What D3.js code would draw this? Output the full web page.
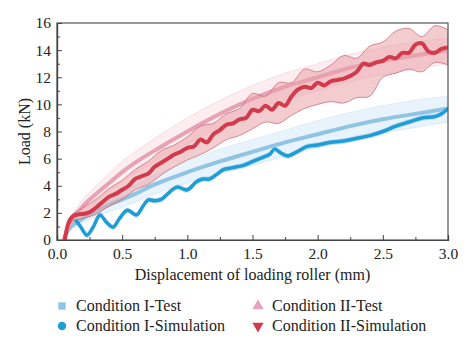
<!DOCTYPE html>
<html>
<head>
<meta charset="utf-8">
<script src="https://cdn.jsdelivr.net/npm/d3@7/dist/d3.min.js"></script>
<style>
  body { margin: 0; background: #fff; }
  svg { font-family: "Liberation Serif", "DejaVu Serif", serif; }
</style>
</head>
<body>
<div id="chart"></div>
<script>
// data (displacement mm, load kN)
const xTicks = [0, 0.5, 1.0, 1.5, 2.0, 2.5, 3.0];
const yTicks = [0, 2, 4, 6, 8, 10, 12, 14, 16];

const testD = [0.05, 0.1, 0.2, 0.3, 0.4, 0.5, 0.6, 0.75, 1.0, 1.25, 1.5, 1.75, 2.0, 2.25, 2.5, 2.75, 3.0];
const test1 = [0, 0.9, 1.6, 2.1, 2.6, 3.0, 3.4, 4.1, 5.0, 5.8, 6.5, 7.2, 7.8, 8.4, 8.9, 9.3, 9.7];
const test1Hi = [0, 1.1, 1.9, 2.5, 3.1, 3.6, 4.0, 4.8, 5.8, 6.7, 7.4, 8.1, 8.8, 9.4, 9.9, 10.3, 10.6];
const test1Lo = [0, 0.7, 1.3, 1.7, 2.1, 2.4, 2.8, 3.4, 4.2, 4.9, 5.5, 6.2, 6.8, 7.4, 7.9, 8.3, 8.7];
const test2 = [0, 1.2, 2.5, 3.4, 4.2, 5.0, 5.7, 6.6, 8.0, 9.3, 10.4, 11.3, 12.0, 12.7, 13.2, 13.6, 14.0];
const test2Hi = [0, 1.5, 3.0, 4.0, 4.9, 5.8, 6.5, 7.5, 9.0, 10.3, 11.4, 12.3, 13.0, 13.7, 14.2, 14.6, 14.9];
const test2Lo = [0, 0.9, 2.0, 2.8, 3.6, 4.3, 4.9, 5.8, 7.1, 8.3, 9.4, 10.3, 11.0, 11.7, 12.2, 12.6, 13.0];

const sim1D = [0.14, 0.18, 0.23, 0.28, 0.33, 0.38, 0.43, 0.48, 0.54, 0.61, 0.66, 0.7, 0.75, 0.8, 0.86, 0.92, 1.0, 1.07, 1.12, 1.17, 1.22, 1.28, 1.33, 1.38, 1.43, 1.48, 1.53, 1.58, 1.63, 1.67, 1.72, 1.77, 1.84, 1.92, 2.0, 2.1, 2.2, 2.3, 2.4, 2.5, 2.6, 2.7, 2.8, 2.9, 2.95, 3.0];
const sim1 = [1.5, 1.0, 0.35, 1.0, 1.85, 1.3, 0.95, 1.6, 2.2, 1.85, 2.5, 2.95, 2.9, 3.0, 3.5, 3.9, 3.7, 4.3, 4.5, 4.5, 4.8, 5.2, 5.3, 5.4, 5.5, 5.7, 5.9, 6.1, 6.3, 6.7, 6.4, 6.2, 6.5, 6.9, 7.0, 7.2, 7.3, 7.5, 7.7, 8.0, 8.4, 8.7, 9.0, 9.1, 9.3, 9.7];

const sim2D = [0.06, 0.08, 0.1, 0.13, 0.17, 0.22, 0.26, 0.3, 0.35, 0.4, 0.45, 0.5, 0.55, 0.6, 0.65, 0.7, 0.75, 0.8, 0.85, 0.9, 0.95, 1.0, 1.05, 1.1, 1.15, 1.2, 1.25, 1.3, 1.35, 1.4, 1.45, 1.5, 1.55, 1.6, 1.65, 1.7, 1.75, 1.8, 1.85, 1.9, 1.95, 2.0, 2.05, 2.1, 2.15, 2.2, 2.25, 2.3, 2.35, 2.4, 2.45, 2.5, 2.55, 2.6, 2.65, 2.7, 2.75, 2.8, 2.85, 2.9, 2.95, 3.0];
const sim2 = [0, 1.0, 1.5, 1.8, 1.9, 1.95, 2.1, 2.4, 2.8, 3.2, 3.4, 3.7, 4.0, 4.5, 4.7, 4.9, 5.4, 5.7, 6.0, 6.3, 6.5, 6.8, 6.9, 7.4, 7.2, 7.8, 8.1, 8.5, 8.6, 8.9, 9.0, 9.6, 9.5, 9.9, 9.6, 10.1, 9.9, 10.6, 11.1, 11.3, 11.2, 11.6, 11.4, 11.7, 11.8, 11.9, 12.1, 12.4, 13.0, 12.9, 13.1, 13.2, 13.5, 13.4, 13.8, 13.8, 14.4, 14.5, 13.9, 13.8, 14.1, 14.2];

const bandD = [0.06, 0.1, 0.2, 0.3, 0.4, 0.5, 0.6, 0.7, 0.8, 0.9, 1.0, 1.1, 1.2, 1.3, 1.4, 1.5, 1.6, 1.7, 1.8, 1.9, 2.0, 2.1, 2.2, 2.3, 2.4, 2.5, 2.6, 2.7, 2.8, 2.9, 3.0];
const sim2Hi = [0, 1.7, 2.4, 3.0, 3.8, 4.4, 5.2, 5.8, 6.6, 7.0, 7.6, 8.4, 8.6, 9.3, 9.7, 10.8, 10.6, 11.6, 11.6, 12.6, 12.4, 12.9, 13.6, 13.4, 14.3, 14.6, 15.4, 15.6, 15.0, 15.8, 15.5];
const sim2Lo = [0, 1.3, 1.6, 1.9, 2.5, 3.0, 3.7, 4.1, 4.8, 5.4, 5.9, 6.3, 6.8, 7.4, 7.7, 8.2, 8.7, 8.6, 9.2, 9.7, 10.0, 10.2, 10.1, 10.5, 10.6, 12.0, 12.3, 12.6, 12.4, 13.1, 12.9];

const seriesNames = ['Condition I-Test', 'Condition I-Simulation', 'Condition II-Test', 'Condition II-Simulation'];

const width = 474, height = 348;
const margin = { top: 23, right: 26, bottom: 108, left: 57 };

const svg = d3.select('#chart').append('svg')
  .attr('width', width)
  .attr('height', height);

const x = d3.scaleLinear().domain([0, 3]).range([margin.left, width - margin.right]);
const y = d3.scaleLinear().domain([0, 16]).range([height - margin.bottom, margin.top]);

svg.append('defs').append('clipPath').attr('id', 'clip')
  .append('rect')
  .attr('x', margin.left).attr('y', margin.top)
  .attr('width', x(3) - x(0)).attr('height', y(0) - y(16));

const plot = svg.append('g').attr('clip-path', 'url(#clip)');

const line = d3.line().x(d => x(d[0])).y(d => y(d[1])).curve(d3.curveCatmullRom);
const area = d3.area().x(d => x(d[0])).y0(d => y(d[1])).y1(d => y(d[2])).curve(d3.curveCatmullRom);

const zip = (xs, ys) => xs.map((v, i) => [v, ys[i]]);
const zip3 = (xs, a, b) => xs.map((v, i) => [v, a[i], b[i]]);

// condition I test band
plot.append('path')
  .attr('d', area(zip3(testD, test1Lo, test1Hi)))
  .attr('fill', '#e9f3fb')
  .attr('stroke', '#d3e6f4')
  .attr('stroke-width', 0.7);

// condition II test band
plot.append('path')
  .attr('d', area(zip3(testD, test2Lo, test2Hi)))
  .attr('fill', '#fcedf1')
  .attr('stroke', '#f3d3dc')
  .attr('stroke-width', 0.7);

plot.append('path')
  .attr('d', line(zip(testD, test1)))
  .attr('fill', 'none')
  .attr('stroke', '#8fc5e3')
  .attr('stroke-width', 4);

plot.append('path')
  .attr('d', line(zip(testD, test2)))
  .attr('fill', 'none')
  .attr('stroke', '#e7a2b6')
  .attr('stroke-width', 4);

// condition I simulation
plot.append('path')
  .attr('d', area(sim1D.map((d, i) => [d, sim1[i] - 0.2, sim1[i] + 0.2])))
  .attr('fill', '#9fd0ec')
  .attr('opacity', 0.7);

plot.append('path')
  .attr('d', line(zip(sim1D, sim1)))
  .attr('fill', 'none')
  .attr('stroke', '#1e9dd6')
  .attr('stroke-width', 3.5);

// condition II simulation
plot.append('path')
  .attr('d', area(zip3(bandD, sim2Lo, sim2Hi)))
  .attr('fill', '#e9a3a7')
  .attr('fill-opacity', 0.55)
  .attr('stroke', '#c9707a')
  .attr('stroke-width', 0.8);

plot.append('path')
  .attr('d', line(zip(sim2D, sim2)))
  .attr('fill', 'none')
  .attr('stroke', '#d23b4c')
  .attr('stroke-width', 4);

// frame
svg.append('rect')
  .attr('x', x(0)).attr('y', y(16))
  .attr('width', x(3) - x(0)).attr('height', y(0) - y(16))
  .attr('fill', 'none')
  .attr('stroke', '#555')
  .attr('stroke-width', 1.2);

// axes with inner ticks
svg.append('g')
  .attr('transform', `translate(0,${y(0)})`)
  .call(d3.axisBottom(x).tickValues(xTicks).tickSize(-5).tickPadding(8).tickFormat(d3.format('.1f')));

svg.append('g')
  .attr('transform', `translate(0,${y(0)})`)
  .call(d3.axisBottom(x).tickValues(d3.range(0.25, 3, 0.5)).tickSize(-3).tickFormat(''));

svg.append('g')
  .attr('transform', `translate(${x(0)},0)`)
  .call(d3.axisLeft(y).tickValues(yTicks).tickSize(-5).tickPadding(6));

svg.append('g')
  .attr('transform', `translate(${x(0)},0)`)
  .call(d3.axisLeft(y).tickValues(d3.range(1, 16, 2)).tickSize(-3).tickFormat(''));

svg.selectAll('.domain').attr('stroke', '#444').attr('stroke-width', 1.2);
svg.selectAll('.tick line').attr('stroke', '#444');
svg.selectAll('.tick text')
  .attr('font-family', '"Liberation Serif", serif')
  .attr('font-size', '15.5px')
  .attr('fill', '#222');

svg.append('text')
  .text('Displacement of loading roller (mm)')
  .attr('x', (x(0) + x(3)) / 2)
  .attr('y', 280)
  .attr('text-anchor', 'middle')
  .attr('font-size', '16px')
  .attr('fill', '#222');

svg.append('text')
  .text('Load (kN)')
  .attr('transform', `translate(30,${(y(0) + y(16)) / 2}) rotate(-90)`)
  .attr('text-anchor', 'middle')
  .attr('font-size', '16px')
  .attr('fill', '#222');

// legend
const legend = svg.append('g');
const items = [
  { name: seriesNames[0], color: '#8fc5e3', sym: d3.symbolSquare, x: 62, y: 306, rot: 0 },
  { name: seriesNames[1], color: '#1e9dd6', sym: d3.symbolCircle, x: 62, y: 326, rot: 0 },
  { name: seriesNames[2], color: '#e7a2b6', sym: d3.symbolTriangle, x: 258, y: 306, rot: 0 },
  { name: seriesNames[3], color: '#d23b4c', sym: d3.symbolTriangle, x: 258, y: 326, rot: 180 }
];
items.forEach(it => {
  const g = legend.append('g').attr('transform', `translate(${it.x},${it.y})`);
  g.append('path')
    .attr('d', d3.symbol().type(it.sym).size(55)())
    .attr('transform', `rotate(${it.rot})`)
    .attr('fill', it.color);
  g.append('text')
    .text(it.name)
    .attr('x', 14)
    .attr('y', 5)
    .attr('font-size', '16px')
    .attr('fill', '#222');
});
</script>
</body>
</html>
